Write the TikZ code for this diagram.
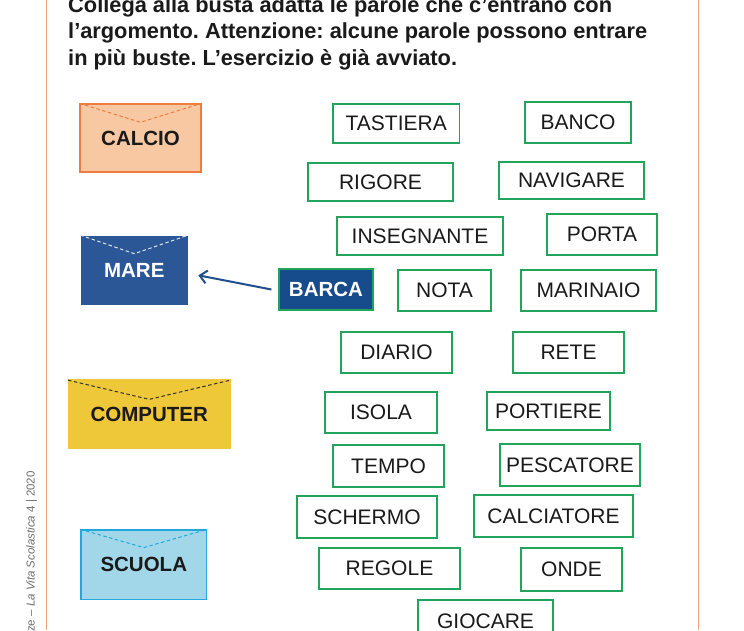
\documentclass[tikz,border=0pt]{standalone}
\usepackage{fontspec}
\setmainfont{Liberation Sans}
\usetikzlibrary{arrows.meta}
\frenchspacing
\definecolor{orangeline}{HTML}{F4A57A}
\definecolor{peach}{HTML}{F7C8A1}
\definecolor{peachborder}{HTML}{EE7B3F}
\definecolor{mareblue}{HTML}{2B5796}
\definecolor{yellowenv}{HTML}{EEC839}
\definecolor{scuolafill}{HTML}{A2D7E9}
\definecolor{scuolaborder}{HTML}{22A8DC}
\definecolor{boxgreen}{HTML}{22A45A}
\definecolor{barcablue}{HTML}{164B8C}
\definecolor{arrowblue}{HTML}{1F4F8F}
\definecolor{inktext}{HTML}{1A1A1A}
\definecolor{sidegray}{HTML}{6D6D6D}
\tikzset{
  wordbox/.style={draw=boxgreen, line width=1.2pt, fill=white, inner sep=0pt,
    font=\fontsize{21}{21}\selectfont, text=inktext},
  envbox/.style={inner sep=0pt, line width=1.4pt, font=\fontsize{20.5}{20.5}\selectfont\bfseries, text=inktext},
  envdash/.style={dash pattern=on 3.5pt off 2.5pt, line width=1pt},
  headline/.style={anchor=base west, inner sep=0pt, font=\fontsize{21.8}{26}\selectfont\bfseries, text=inktext}
}
\newcommand\wbox[6]{\node[wordbox, minimum width={(#4-#2)*1pt}, minimum height={(#5-#3)*1pt}] (#1) at ({(#2+#4)/2},{(#3+#5)/2}) {#6};}
\begin{document}
\begin{tikzpicture}[x=1pt,y=-1pt]
\useasboundingbox (0,0) rectangle (744,630);
\fill[white] (0,0) rectangle (744,630);
% frame lines
\coordinate (lt) at (46.7,0); \coordinate (lb) at (46.7,630);
\coordinate (rt) at (698.5,0); \coordinate (rb) at (698.5,630);
\draw[orangeline, line width=1.2pt] (lt) -- (lb);
\draw[orangeline, line width=1.2pt] (rt) -- (rb);
% heading
\node[headline] (h1) at (68,12) {Collega alla busta adatta le parole che c’entrano con};
\node[headline] (h2) at (68,38.5) {l’argomento. Attenzione: alcune parole possono entrare};
\node[headline] (h3) at (68,65) {in più buste. L’esercizio è già avviato.};
% side text
\node[anchor=base east, rotate=90, inner sep=0pt, text=sidegray, font=\fontsize{11.5}{11.5}\selectfont] (side) at (34.5,471) {rze – \textit{La Vita Scolastica} 4 | 2020};
% envelopes
\node[envbox, fill=peach, draw=peachborder, minimum width=121pt, minimum height=68pt] (calcio) at (140.5,138) {CALCIO};
\coordinate (calcioV) at ([yshift=-19pt]calcio.north);
\draw[envdash, peachborder] (calcio.north west) -- (calcioV) -- (calcio.north east);

\node[envbox, fill=mareblue, minimum width=106.7pt, minimum height=69pt, text=white] (mare) at (134.3,270.3) {MARE};
\coordinate (mareV) at ([yshift=-18.6pt]mare.north);
\draw[envdash, white!85!mareblue] (mare.north west) -- (mareV) -- (mare.north east);

\node[envbox, fill=yellowenv, minimum width=163pt, minimum height=69.7pt] (computer) at (149.2,414.2) {COMPUTER};
\coordinate (computerV) at ([yshift=-20.7pt]computer.north);
\draw[envdash, black!80] ([xshift=1pt,yshift=-1.5pt]computer.north west) -- (computerV) -- ([xshift=-1pt,yshift=-1.5pt]computer.north east);

\node[envbox, fill=scuolafill, draw=scuolaborder, minimum width=125.7pt, minimum height=69.7pt] (scuola) at (143.8,564.8) {SCUOLA};
\coordinate (scuolaV) at ([yshift=-18.3pt]scuola.north);
\draw[envdash, scuolaborder] (scuola.north west) -- (scuolaV) -- (scuola.north east);

% word boxes
\wbox{tastiera}{333}{104}{459.5}{143}{TASTIERA}
\wbox{banco}{525}{102}{631}{143}{BANCO}
\wbox{rigore}{308}{163}{453}{201}{RIGORE}
\wbox{navigare}{499}{162}{644}{199}{NAVIGARE}
\wbox{insegnante}{337}{217}{503}{255}{INSEGNANTE}
\wbox{porta}{547}{214}{657}{255}{PORTA}
\node[wordbox, fill=barcablue, text=white, font=\fontsize{20.5}{20.5}\selectfont\bfseries, minimum width=94pt, minimum height=41pt] (barca) at (326,289.5) {BARCA};
\wbox{nota}{398}{270}{491}{311}{NOTA}
\wbox{marinaio}{521}{270}{656}{311}{MARINAIO}
\wbox{diario}{341}{332}{452}{373}{DIARIO}
\wbox{rete}{513}{332}{624}{373}{RETE}
\wbox{isola}{325}{392}{437}{433}{ISOLA}
\wbox{portiere}{487}{392}{610}{430}{PORTIERE}
\wbox{tempo}{333}{445}{444}{487}{TEMPO}
\wbox{pescatore}{500}{444}{640}{486}{PESCATORE}
\wbox{schermo}{297}{496}{437}{538}{SCHERMO}
\wbox{calciatore}{474}{495}{633}{537}{CALCIATORE}
\wbox{regole}{319}{548}{460}{589}{REGOLE}
\wbox{onde}{521}{548}{622}{591}{ONDE}
\wbox{giocare}{418}{600}{553}{642}{GIOCARE}
% arrow
\draw[arrowblue, line width=2pt, -{Straight Barb[length=7pt,width=13pt,line width=2pt]}]
  ([xshift=-7pt]barca.west) -- ([xshift=10pt,yshift=-5pt]mare.east);
\end{tikzpicture}
\end{document}
